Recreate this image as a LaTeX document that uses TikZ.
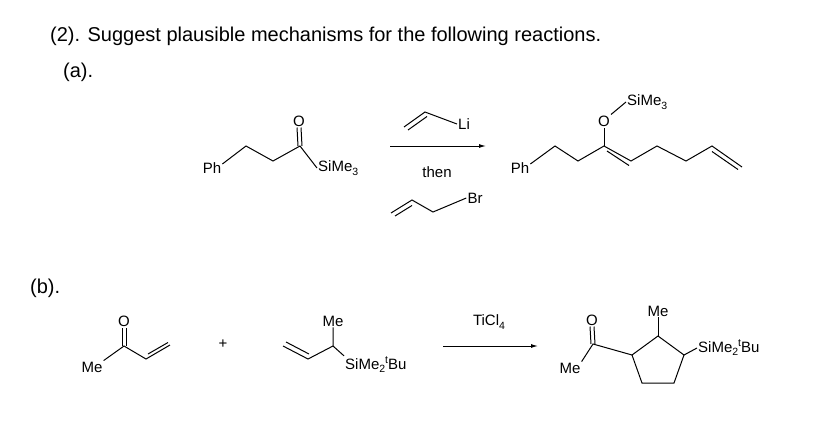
\documentclass[tikz,border=0pt]{standalone}
\usepackage{fontspec}
\setmainfont{Liberation Sans}
\usetikzlibrary{arrows.meta}
\newcommand{\lsub}[1]{\raisebox{-0.45ex}{\fontsize{10.5}{11}\selectfont #1}}
\newcommand{\lsup}[1]{\raisebox{0.7ex}{\fontsize{10.5}{11}\selectfont #1}}
\begin{document}
\begin{tikzpicture}[x=1pt,y=-1pt,
  bond/.style={line width=1pt},
  lbl/.style={font=\fontsize{15}{17}\selectfont,inner sep=1pt},
  head/.style={font=\fontsize{20}{22}\selectfont,anchor=west,inner sep=0pt},
  rxn/.style={line width=1pt,-{Latex[length=7pt,width=4pt]}}]
\useasboundingbox[fill=white] (0,0) rectangle (828,429);
\node[head] (h) at (50,36) {(2). Suggest plausible mechanisms for the following reactions.};
\node[head] (ha) at (63,72) {(a).};
\node[head] (hb) at (30,288) {(b).};
% (a) reactant
\node[lbl] (ph1) at (212,168) {Ph};
\node[lbl] (o1) at (299,121) {O};
\node[lbl,anchor=west] (si1) at (317,168) {SiMe\lsub{3}};
\coordinate (c1) at (300,146);
\draw[bond] (ph1.east)++(0,-4) -- (246,146) -- (273,161) -- (c1) -- (si1.west);
\draw[bond] ([xshift=-2pt]c1) -- ([xshift=-2pt]o1.south);
\draw[bond] ([xshift=2pt]c1) -- ([xshift=2pt]o1.south);
% arrow and reagents
\coordinate (a1) at (390,146); \coordinate (a2) at (486,146);
\draw[rxn] (a1) -- (a2);
\node[lbl] (then) at (437,172) {then};
\node[lbl] (li) at (464,124) {Li};
\draw[bond] (404,127) -- (425,112) -- (li.west);
\draw[bond] (408,130) -- (427,116.5);
\node[lbl] (br) at (475,198) {Br};
\draw[bond] (391,213) -- (412,200) -- (433,212) -- (br.west);
\draw[bond] (395,216) -- (412,205.5);
% (a) product
\node[lbl] (ph2) at (520,168) {Ph};
\node[lbl] (o2) at (604,121) {O};
\node[lbl,anchor=west] (si2) at (626,102) {SiMe\lsub{3}};
\coordinate (c2) at (604,146);
\draw[bond] (ph2.east)++(0,-4) -- (555,146) -- (578,161) -- (c2) -- (631,161) -- (657,146) -- (686,161) -- (712,146) -- (742,167);
\draw[bond] (c2) -- (o2.south);
\draw[bond] (o2.north east) -- (si2.west);
\draw[bond] (607,151) -- (629,165.5);
\draw[bond] (712,151.5) -- (738,169.5);
% (b) reactant 1
\node[lbl] (me1) at (92,367) {Me};
\node[lbl] (o3) at (124,321) {O};
\coordinate (c3) at (124,346);
\draw[bond] (me1.north east) -- (c3) -- (146,359) -- (170,345);
\draw[bond] ([xshift=-2pt]c3) -- ([xshift=-2pt]o3.south);
\draw[bond] ([xshift=2pt]c3) -- ([xshift=2pt]o3.south);
\draw[bond] (148,354) -- (168,342.5);
\node[lbl] (plus) at (223,344) {+};
% (b) reactant 2
\node[lbl] (me2) at (333,321) {Me};
\node[lbl,anchor=west] (si3) at (344,365) {SiMe\lsub{2}\lsup{t}Bu};
\coordinate (c4) at (333,346);
\draw[bond] (283,346) -- (308,359) -- (c4) -- (me2.south);
\draw[bond] (c4) -- (si3.north west);
\draw[bond] (286,342) -- (309,354);
% arrow
\coordinate (b1) at (443,346); \coordinate (b2) at (538,346);
\draw[rxn] (b1) -- (b2);
\node[lbl] (ti) at (489,322) {TiCl\lsub{4}};
% (b) product
\node[lbl] (me3) at (570,368) {Me};
\node[lbl] (o4) at (592,320) {O};
\node[lbl] (me4) at (658,311) {Me};
\node[lbl,anchor=west] (si4) at (697,348) {SiMe\lsub{2}\lsup{t}Bu};
\coordinate (c5) at (593,344);
\coordinate (r1) at (632,355); \coordinate (r2) at (658,336);
\coordinate (r3) at (684,355); \coordinate (r4) at (674,383); \coordinate (r5) at (642,383);
\draw[bond] (me3.north east) -- (c5) -- (r1);
\draw[bond] (r1) -- (r2) -- (r3) -- (r4) -- (r5) -- cycle;
\draw[bond] ([xshift=-2pt]c5) -- ([xshift=-2pt]o4.south);
\draw[bond] ([xshift=2pt]c5) -- ([xshift=2pt]o4.south);
\draw[bond] (r2) -- (me4.south);
\draw[bond] (r3) -- (si4.west);
\end{tikzpicture}
\end{document}
